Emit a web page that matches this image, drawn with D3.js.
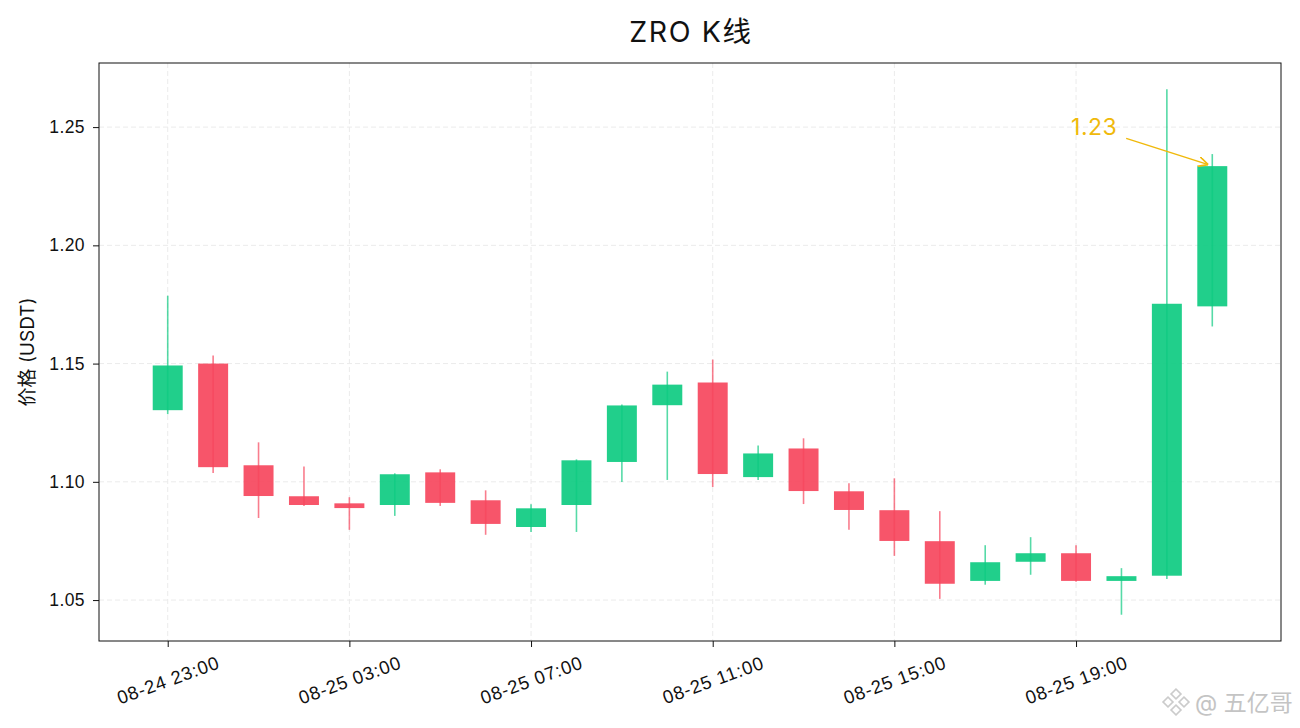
<!DOCTYPE html>
<html>
<head>
<meta charset="utf-8">
<script src="https://cdn.jsdelivr.net/npm/d3@7/dist/d3.min.js"></script>
<style>
  body { margin: 0; background: #fff; }
  svg { display: block; font-family: Inter, "Noto Sans CJK SC", "Noto Sans", sans-serif; }
</style>
</head>
<body>
<div id="chart"></div>
<script>
// hourly candles, ZRO/USDT
var times = [
  '2024-08-24T23:00', '2024-08-25T00:00', '2024-08-25T01:00', '2024-08-25T02:00',
  '2024-08-25T03:00', '2024-08-25T04:00', '2024-08-25T05:00', '2024-08-25T06:00',
  '2024-08-25T07:00', '2024-08-25T08:00', '2024-08-25T09:00', '2024-08-25T10:00',
  '2024-08-25T11:00', '2024-08-25T12:00', '2024-08-25T13:00', '2024-08-25T14:00',
  '2024-08-25T15:00', '2024-08-25T16:00', '2024-08-25T17:00', '2024-08-25T18:00',
  '2024-08-25T19:00', '2024-08-25T20:00', '2024-08-25T21:00', '2024-08-25T22:00'
];
var opens  = [1.1303, 1.1500, 1.1070, 1.0939, 1.0909, 1.0902, 1.1040, 1.0922,
              1.0809, 1.0902, 1.1084, 1.1324, 1.1420, 1.1020, 1.1141, 1.0960,
              1.0880, 1.0749, 1.0581, 1.0662, 1.0698, 1.0581, 1.0603, 1.1742];
var highs  = [1.1787, 1.1534, 1.1167, 1.1065, 1.0935, 1.1036, 1.1053, 1.0964,
              1.0905, 1.1095, 1.1327, 1.1466, 1.1517, 1.1154, 1.1184, 1.0994,
              1.1015, 1.0876, 1.0732, 1.0766, 1.0732, 1.0635, 1.2660, 1.2386];
var lows   = [1.1286, 1.1037, 1.0847, 1.0898, 1.0797, 1.0856, 1.0898, 1.0776,
              1.0788, 1.0788, 1.0999, 1.1008, 1.0978, 1.1008, 1.0906, 1.0797,
              1.0687, 1.0505, 1.0565, 1.0607, 1.0577, 1.0438, 1.0589, 1.1657];
var closes = [1.1492, 1.1062, 1.0940, 1.0902, 1.0889, 1.1032, 1.0911, 1.0822,
              1.0888, 1.1091, 1.1323, 1.1411, 1.1033, 1.1120, 1.0961, 1.0881,
              1.0750, 1.0569, 1.0660, 1.0698, 1.0581, 1.0601, 1.1753, 1.2335];
var yTicks = [1.05, 1.10, 1.15, 1.20, 1.25];

var UP = '#0ecb81';
var DOWN = '#f6465d';
var GOLD = '#f0b90b';

var parseTime = d3.timeParse('%Y-%m-%dT%H:%M');
var data = times.map(function (t, i) {
  return { t: parseTime(t), o: opens[i], h: highs[i], l: lows[i], c: closes[i] };
});

var width = 1300, height = 728;
var margins = { top: 63, right: 19, bottom: 87, left: 99 };
var chartWidth = width - margins.left - margins.right;
var chartHeight = height - margins.top - margins.bottom;

var HOUR = 3600 * 1000;
var halfBar = 0.33 * HOUR;

// matplotlib-like 5% padding around the data
var t0 = data[0].t.getTime() - halfBar, t1 = data[data.length - 1].t.getTime() + halfBar;
var tPad = (t1 - t0) * 0.05;
var x = d3.scaleTime()
  .domain([new Date(t0 - tPad), new Date(t1 + tPad)])
  .range([0, chartWidth]);

var yMin = d3.min(lows), yMax = d3.max(highs);
var yPad = (yMax - yMin) * 0.05;
var y = d3.scaleLinear()
  .domain([yMin - yPad, yMax + yPad])
  .range([chartHeight, 0]);

var svg = d3.select('#chart').append('svg')
  .attr('width', width)
  .attr('height', height);

svg.append('text')
  .attr('x', margins.left + chartWidth / 2 + 1)
  .attr('y', 42)
  .attr('text-anchor', 'middle')
  .attr('font-size', 28.5)
  .attr('letter-spacing', 1.6)
  .attr('fill', '#111')
  .text('ZRO K线');

var g = svg.append('g')
  .attr('transform', `translate(${margins.left},${margins.top})`);

var xTickVals = data.filter((d, i) => i % 4 === 0).map(d => d.t);

// grid
g.append('g').selectAll('line')
  .data(yTicks).enter().append('line')
  .attr('x1', 0).attr('x2', chartWidth)
  .attr('y1', d => y(d)).attr('y2', d => y(d))
  .attr('stroke', '#ebebeb').attr('stroke-dasharray', '5,3');
g.append('g').selectAll('line')
  .data(xTickVals).enter().append('line')
  .attr('y1', 0).attr('y2', chartHeight)
  .attr('x1', d => x(d)).attr('x2', d => x(d))
  .attr('stroke', '#ebebeb').attr('stroke-dasharray', '5,3');

// candles
var barW = x(new Date(data[0].t.getTime() + halfBar)) - x(new Date(data[0].t.getTime() - halfBar));
var candle = g.append('g').selectAll('g')
  .data(data).enter().append('g');

candle.append('rect')
  .attr('x', d => x(d.t) - barW / 2)
  .attr('y', d => y(Math.max(d.o, d.c)))
  .attr('width', barW)
  .attr('height', d => Math.max(1, Math.abs(y(d.o) - y(d.c))))
  .attr('fill', d => d.c >= d.o ? UP : DOWN)
  .attr('fill-opacity', 0.92);

candle.append('line')
  .attr('x1', d => x(d.t)).attr('x2', d => x(d.t))
  .attr('y1', d => y(d.h)).attr('y2', d => y(d.l))
  .attr('stroke', d => d.c >= d.o ? UP : DOWN)
  .attr('stroke-opacity', 0.7)
  .attr('stroke-width', 1.6);

// annotation for last close
var last = data[data.length - 1];
var defs = svg.append('defs');
defs.append('marker')
  .attr('id', 'arr')
  .attr('viewBox', '0 0 10 10')
  .attr('refX', 10).attr('refY', 5)
  .attr('markerWidth', 10).attr('markerHeight', 10)
  .attr('markerUnits', 'userSpaceOnUse')
  .attr('orient', 'auto')
  .append('path')
  .attr('d', 'M0,0 L10,5 L0,10')
  .attr('fill', 'none')
  .attr('stroke', GOLD)
  .attr('stroke-width', 1.6);

var txX = x(new Date(last.t.getTime() - 2.6 * HOUR));
var txY = y(last.c + 0.0168);
g.append('line')
  .attr('x1', txX + 32).attr('y1', txY + 12)
  .attr('x2', x(last.t) - 4).attr('y2', y(last.c) - 1.5)
  .attr('stroke', GOLD)
  .attr('stroke-width', 1.5)
  .attr('marker-end', 'url(#arr)');
g.append('text')
  .attr('x', txX).attr('y', txY)
  .attr('dy', '0.36em')
  .attr('text-anchor', 'middle')
  .attr('font-size', 23)
  .attr('letter-spacing', 0.5)
  .attr('fill', GOLD)
  .text(d3.format('.2f')(last.c));

// axes
var xAxis = g.append('g')
  .attr('transform', `translate(0,${chartHeight})`)
  .call(d3.axisBottom(x).tickValues(xTickVals).tickFormat(d3.timeFormat('%m-%d %H:%M')).tickSize(6).tickSizeOuter(0));
xAxis.selectAll('text')
  .attr('font-size', 18.5)
  .attr('letter-spacing', 0.8)
  .attr('fill', '#111')
  .attr('text-anchor', 'middle')
  .attr('dy', '0.35em')
  .attr('y', null)
  .attr('transform', 'translate(0,39) rotate(-20)');

var yAxis = g.append('g')
  .call(d3.axisLeft(y).tickValues(yTicks).tickFormat(d3.format('.2f')).tickSize(6).tickSizeOuter(0));
yAxis.selectAll('text')
  .attr('font-size', 17.5)
  .attr('letter-spacing', 0.4)
  .attr('fill', '#111')
  .attr('x', -14);

g.selectAll('.domain').remove();
g.selectAll('.tick line').attr('stroke', '#111');

g.append('rect')
  .attr('width', chartWidth).attr('height', chartHeight)
  .attr('fill', 'none').attr('stroke', '#111').attr('stroke-width', 1);

svg.append('text')
  .attr('transform', `translate(34,${margins.top + chartHeight / 2}) rotate(-90)`)
  .attr('text-anchor', 'middle')
  .attr('font-size', 19)
  .attr('fill', '#111')
  .text('价格 (USDT)');

// watermark
var wm = svg.append('g').attr('transform', 'translate(1176,702)').attr('opacity', 0.5);
[[0, -8], [-8, 0], [8, 0], [0, 8]].forEach(function (p) {
  wm.append('rect')
    .attr('x', p[0] - 3.5).attr('y', p[1] - 3.5)
    .attr('width', 7).attr('height', 7)
    .attr('transform', `rotate(45,${p[0]},${p[1]})`)
    .attr('fill', 'none').attr('stroke', '#999').attr('stroke-width', 1.6);
});
svg.append('text')
  .attr('x', 1195).attr('y', 711)
  .attr('font-size', 23)
  .attr('fill', '#c4c4c4')
  .text('@ 五亿哥');
</script>
</body>
</html>
